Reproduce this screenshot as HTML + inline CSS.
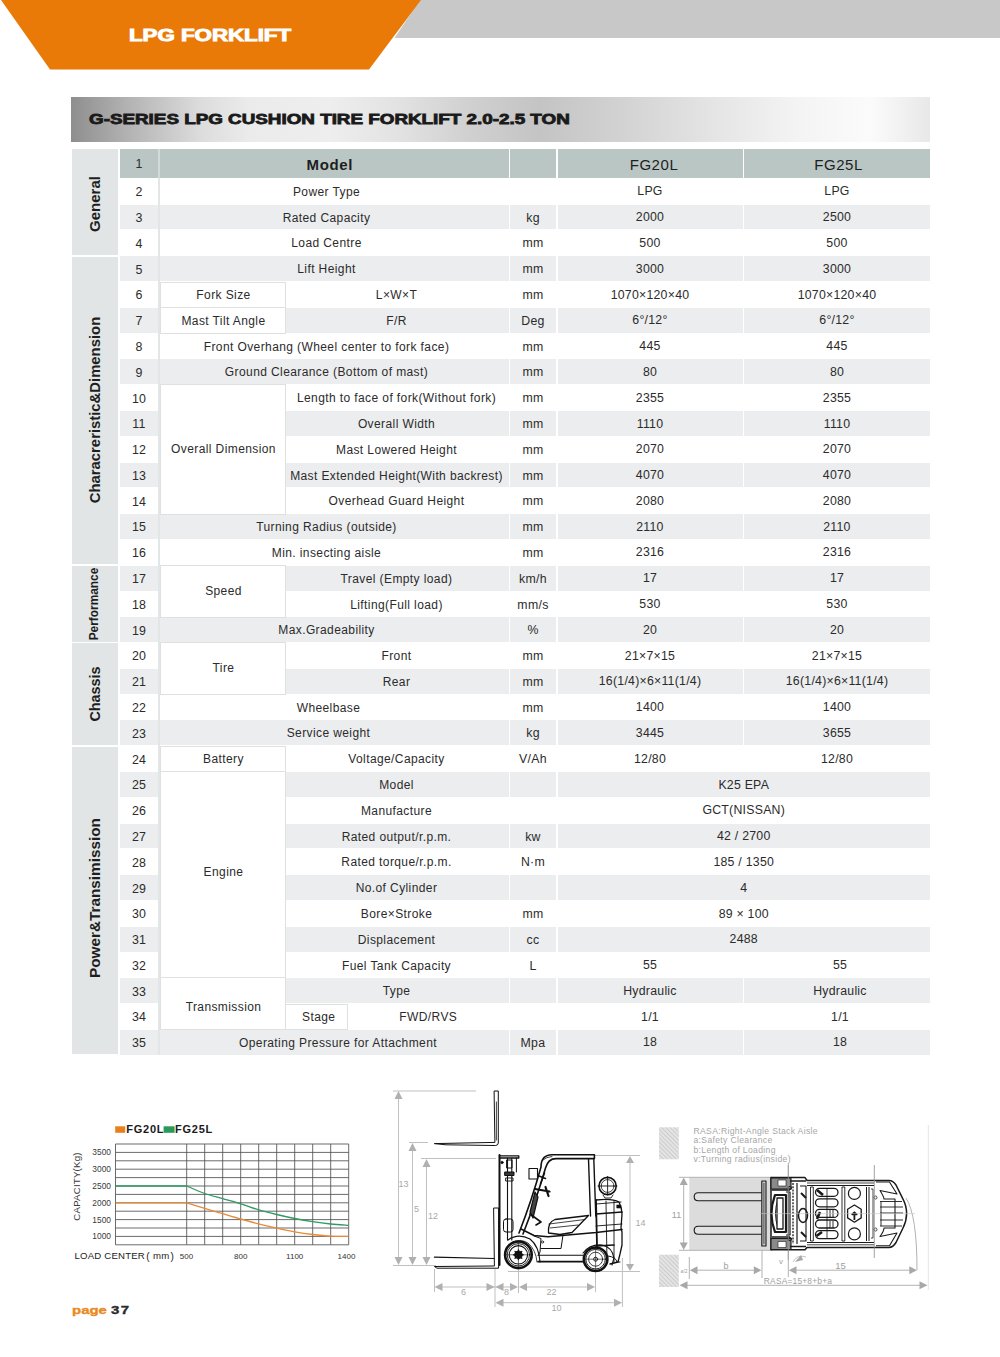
<!DOCTYPE html>
<html><head><meta charset="utf-8">
<style>
html,body{margin:0;padding:0;background:#fff;}
body{width:1000px;height:1357px;position:relative;overflow:hidden;font-family:"Liberation Sans",sans-serif;}
.t{position:absolute;text-align:center;white-space:nowrap;font-size:12px;letter-spacing:0.4px;color:#2b2b2b;}
.num{font-size:12.4px;letter-spacing:0.2px;}
.val{font-size:12.3px;letter-spacing:0.25px;}
.unit{font-size:12.3px;letter-spacing:0.3px;}
.hm{font-size:15px;font-weight:bold;letter-spacing:0.65px;color:#1e1e1e;}
.hv{font-size:15px;letter-spacing:0.55px;color:#1e1e1e;}
.sec{position:absolute;width:300px;height:20px;line-height:20px;text-align:center;font-weight:bold;color:#1e1e1e;transform:rotate(-90deg);white-space:nowrap;}
</style></head><body>
<!-- header -->
<svg style="position:absolute;left:0;top:0" width="1000" height="80">
<polygon points="0,0 1000,0 1000,38 394.5,38 420,0" fill="#c8c8c8"/>
<polygon points="1,0 421,0 369,69.5 50,69.5" fill="#ea7a08"/>
</svg>
<div style="position:absolute;left:129px;top:23.8px;height:24px;line-height:24px;font-size:15.8px;font-weight:bold;color:#fff;-webkit-text-stroke:0.9px #fff;transform-origin:0 50%;transform:scaleX(1.41);white-space:nowrap;">LPG FORKLIFT</div>
<!-- title bar -->
<div style="position:absolute;left:71px;top:96.5px;width:859px;height:45px;background:linear-gradient(90deg,#8e8e8e 0%,#b4b4b4 6.9%,#dcdcdc 15%,#ebebeb 20.8%,#eeeeee 30.2%,#e2e2e2 38.3%,#d0d0d0 46.4%,#c4c4c4 54.6%,#d2d2d2 63.9%,#e6e6e6 75.6%,#f4f4f4 84.9%,#fbfbfb 93%,#e8e8e8 100%);"></div>
<div style="position:absolute;left:88.8px;top:107.3px;height:24px;line-height:24px;font-size:14px;font-weight:bold;color:#1a1a1a;-webkit-text-stroke:0.8px #1a1a1a;transform-origin:0 50%;transform:scaleX(1.3445);white-space:nowrap;">G-SERIES LPG CUSHION TIRE FORKLIFT 2.0-2.5 TON</div>
<!-- table -->
<div style="position:absolute;left:120.00px;top:148.50px;width:38.00px;height:29.90px;background:#bac6c4;"></div>
<div style="position:absolute;left:158.00px;top:148.50px;width:2.00px;height:29.90px;background:#d3dbda;"></div>
<div style="position:absolute;left:160.00px;top:148.50px;width:348.50px;height:29.90px;background:#bac6c4;"></div>
<div style="position:absolute;left:510.00px;top:148.50px;width:46.00px;height:29.90px;background:#bac6c4;"></div>
<div style="position:absolute;left:557.50px;top:148.50px;width:185.00px;height:29.90px;background:#bac6c4;"></div>
<div style="position:absolute;left:744.00px;top:148.50px;width:186.00px;height:29.90px;background:#bac6c4;"></div>
<div class="t num" style="left:120.00px;top:150.00px;width:38.00px;height:29.90px;line-height:29.90px;">1</div>
<div class="t hm" style="left:269.80px;top:150.00px;width:120.00px;height:29.90px;line-height:29.90px;">Model</div>
<div class="t hv" style="left:594.00px;top:150.00px;width:120.00px;height:29.90px;line-height:29.90px;">FG20L</div>
<div class="t hv" style="left:778.60px;top:150.00px;width:120.00px;height:29.90px;line-height:29.90px;">FG25L</div>
<div class="t num" style="left:120.00px;top:180.20px;width:38.00px;height:25.79px;line-height:25.79px;">2</div>
<div class="t" style="left:176.50px;top:179.90px;width:300.00px;height:25.79px;line-height:25.79px;">Power Type</div>
<div class="t val" style="left:557.50px;top:179.40px;width:185.00px;height:25.79px;line-height:25.79px;">LPG</div>
<div class="t val" style="left:744.00px;top:179.40px;width:186.00px;height:25.79px;line-height:25.79px;">LPG</div>
<div style="position:absolute;left:120.00px;top:204.69px;width:38.00px;height:24.79px;background:#ecedee;"></div>
<div style="position:absolute;left:160.00px;top:204.69px;width:348.50px;height:24.79px;background:#ecedee;"></div>
<div style="position:absolute;left:510.00px;top:204.69px;width:46.00px;height:24.79px;background:#ecedee;"></div>
<div style="position:absolute;left:557.50px;top:204.69px;width:185.00px;height:24.79px;background:#ecedee;"></div>
<div style="position:absolute;left:744.00px;top:204.69px;width:186.00px;height:24.79px;background:#ecedee;"></div>
<div class="t num" style="left:120.00px;top:205.99px;width:38.00px;height:25.79px;line-height:25.79px;">3</div>
<div class="t" style="left:176.50px;top:205.69px;width:300.00px;height:25.79px;line-height:25.79px;">Rated Capacity</div>
<div class="t unit" style="left:510.00px;top:205.69px;width:46.00px;height:25.79px;line-height:25.79px;">kg</div>
<div class="t val" style="left:557.50px;top:205.19px;width:185.00px;height:25.79px;line-height:25.79px;">2000</div>
<div class="t val" style="left:744.00px;top:205.19px;width:186.00px;height:25.79px;line-height:25.79px;">2500</div>
<div class="t num" style="left:120.00px;top:231.78px;width:38.00px;height:25.79px;line-height:25.79px;">4</div>
<div class="t" style="left:176.50px;top:231.48px;width:300.00px;height:25.79px;line-height:25.79px;">Load Centre</div>
<div class="t unit" style="left:510.00px;top:231.48px;width:46.00px;height:25.79px;line-height:25.79px;">mm</div>
<div class="t val" style="left:557.50px;top:230.98px;width:185.00px;height:25.79px;line-height:25.79px;">500</div>
<div class="t val" style="left:744.00px;top:230.98px;width:186.00px;height:25.79px;line-height:25.79px;">500</div>
<div style="position:absolute;left:120.00px;top:256.27px;width:38.00px;height:24.79px;background:#ecedee;"></div>
<div style="position:absolute;left:160.00px;top:256.27px;width:348.50px;height:24.79px;background:#ecedee;"></div>
<div style="position:absolute;left:510.00px;top:256.27px;width:46.00px;height:24.79px;background:#ecedee;"></div>
<div style="position:absolute;left:557.50px;top:256.27px;width:185.00px;height:24.79px;background:#ecedee;"></div>
<div style="position:absolute;left:744.00px;top:256.27px;width:186.00px;height:24.79px;background:#ecedee;"></div>
<div class="t num" style="left:120.00px;top:257.57px;width:38.00px;height:25.79px;line-height:25.79px;">5</div>
<div class="t" style="left:176.50px;top:257.27px;width:300.00px;height:25.79px;line-height:25.79px;">Lift Height</div>
<div class="t unit" style="left:510.00px;top:257.27px;width:46.00px;height:25.79px;line-height:25.79px;">mm</div>
<div class="t val" style="left:557.50px;top:256.77px;width:185.00px;height:25.79px;line-height:25.79px;">3000</div>
<div class="t val" style="left:744.00px;top:256.77px;width:186.00px;height:25.79px;line-height:25.79px;">3000</div>
<div class="t num" style="left:120.00px;top:283.36px;width:38.00px;height:25.79px;line-height:25.79px;">6</div>
<div style="position:absolute;left:159.50px;top:281.56px;width:124.00px;height:24.79px;background:#fff;border:1px solid #dfe1e1;box-sizing:content-box"></div>
<div class="t" style="left:163.50px;top:283.06px;width:120.00px;height:25.79px;line-height:25.79px;">Fork Size</div>
<div class="t" style="left:287.50px;top:283.06px;width:218.00px;height:25.79px;line-height:25.79px;">L×W×T</div>
<div class="t unit" style="left:510.00px;top:283.06px;width:46.00px;height:25.79px;line-height:25.79px;">mm</div>
<div class="t val" style="left:557.50px;top:282.56px;width:185.00px;height:25.79px;line-height:25.79px;">1070×120×40</div>
<div class="t val" style="left:744.00px;top:282.56px;width:186.00px;height:25.79px;line-height:25.79px;">1070×120×40</div>
<div style="position:absolute;left:120.00px;top:307.85px;width:38.00px;height:24.79px;background:#ecedee;"></div>
<div style="position:absolute;left:160.00px;top:307.85px;width:348.50px;height:24.79px;background:#ecedee;"></div>
<div style="position:absolute;left:510.00px;top:307.85px;width:46.00px;height:24.79px;background:#ecedee;"></div>
<div style="position:absolute;left:557.50px;top:307.85px;width:185.00px;height:24.79px;background:#ecedee;"></div>
<div style="position:absolute;left:744.00px;top:307.85px;width:186.00px;height:24.79px;background:#ecedee;"></div>
<div class="t num" style="left:120.00px;top:309.15px;width:38.00px;height:25.79px;line-height:25.79px;">7</div>
<div style="position:absolute;left:159.50px;top:307.35px;width:124.00px;height:24.79px;background:#fff;border:1px solid #dfe1e1;box-sizing:content-box"></div>
<div class="t" style="left:163.50px;top:308.85px;width:120.00px;height:25.79px;line-height:25.79px;">Mast Tilt Angle</div>
<div class="t" style="left:287.50px;top:308.85px;width:218.00px;height:25.79px;line-height:25.79px;">F/R</div>
<div class="t unit" style="left:510.00px;top:308.85px;width:46.00px;height:25.79px;line-height:25.79px;">Deg</div>
<div class="t val" style="left:557.50px;top:308.35px;width:185.00px;height:25.79px;line-height:25.79px;">6°/12°</div>
<div class="t val" style="left:744.00px;top:308.35px;width:186.00px;height:25.79px;line-height:25.79px;">6°/12°</div>
<div class="t num" style="left:120.00px;top:334.94px;width:38.00px;height:25.79px;line-height:25.79px;">8</div>
<div class="t" style="left:176.50px;top:334.64px;width:300.00px;height:25.79px;line-height:25.79px;">Front Overhang (Wheel center to fork face)</div>
<div class="t unit" style="left:510.00px;top:334.64px;width:46.00px;height:25.79px;line-height:25.79px;">mm</div>
<div class="t val" style="left:557.50px;top:334.14px;width:185.00px;height:25.79px;line-height:25.79px;">445</div>
<div class="t val" style="left:744.00px;top:334.14px;width:186.00px;height:25.79px;line-height:25.79px;">445</div>
<div style="position:absolute;left:120.00px;top:359.43px;width:38.00px;height:24.79px;background:#ecedee;"></div>
<div style="position:absolute;left:160.00px;top:359.43px;width:348.50px;height:24.79px;background:#ecedee;"></div>
<div style="position:absolute;left:510.00px;top:359.43px;width:46.00px;height:24.79px;background:#ecedee;"></div>
<div style="position:absolute;left:557.50px;top:359.43px;width:185.00px;height:24.79px;background:#ecedee;"></div>
<div style="position:absolute;left:744.00px;top:359.43px;width:186.00px;height:24.79px;background:#ecedee;"></div>
<div class="t num" style="left:120.00px;top:360.73px;width:38.00px;height:25.79px;line-height:25.79px;">9</div>
<div class="t" style="left:176.50px;top:360.43px;width:300.00px;height:25.79px;line-height:25.79px;">Ground Clearance (Bottom of mast)</div>
<div class="t unit" style="left:510.00px;top:360.43px;width:46.00px;height:25.79px;line-height:25.79px;">mm</div>
<div class="t val" style="left:557.50px;top:359.93px;width:185.00px;height:25.79px;line-height:25.79px;">80</div>
<div class="t val" style="left:744.00px;top:359.93px;width:186.00px;height:25.79px;line-height:25.79px;">80</div>
<div class="t num" style="left:120.00px;top:386.52px;width:38.00px;height:25.79px;line-height:25.79px;">10</div>
<div class="t" style="left:287.50px;top:386.22px;width:218.00px;height:25.79px;line-height:25.79px;">Length to face of fork(Without fork)</div>
<div class="t unit" style="left:510.00px;top:386.22px;width:46.00px;height:25.79px;line-height:25.79px;">mm</div>
<div class="t val" style="left:557.50px;top:385.72px;width:185.00px;height:25.79px;line-height:25.79px;">2355</div>
<div class="t val" style="left:744.00px;top:385.72px;width:186.00px;height:25.79px;line-height:25.79px;">2355</div>
<div style="position:absolute;left:120.00px;top:411.01px;width:38.00px;height:24.79px;background:#ecedee;"></div>
<div style="position:absolute;left:160.00px;top:411.01px;width:348.50px;height:24.79px;background:#ecedee;"></div>
<div style="position:absolute;left:510.00px;top:411.01px;width:46.00px;height:24.79px;background:#ecedee;"></div>
<div style="position:absolute;left:557.50px;top:411.01px;width:185.00px;height:24.79px;background:#ecedee;"></div>
<div style="position:absolute;left:744.00px;top:411.01px;width:186.00px;height:24.79px;background:#ecedee;"></div>
<div class="t num" style="left:120.00px;top:412.31px;width:38.00px;height:25.79px;line-height:25.79px;">11</div>
<div class="t" style="left:287.50px;top:412.01px;width:218.00px;height:25.79px;line-height:25.79px;">Overall Width</div>
<div class="t unit" style="left:510.00px;top:412.01px;width:46.00px;height:25.79px;line-height:25.79px;">mm</div>
<div class="t val" style="left:557.50px;top:411.51px;width:185.00px;height:25.79px;line-height:25.79px;">1110</div>
<div class="t val" style="left:744.00px;top:411.51px;width:186.00px;height:25.79px;line-height:25.79px;">1110</div>
<div class="t num" style="left:120.00px;top:438.10px;width:38.00px;height:25.79px;line-height:25.79px;">12</div>
<div class="t" style="left:287.50px;top:437.80px;width:218.00px;height:25.79px;line-height:25.79px;">Mast Lowered Height</div>
<div class="t unit" style="left:510.00px;top:437.80px;width:46.00px;height:25.79px;line-height:25.79px;">mm</div>
<div class="t val" style="left:557.50px;top:437.30px;width:185.00px;height:25.79px;line-height:25.79px;">2070</div>
<div class="t val" style="left:744.00px;top:437.30px;width:186.00px;height:25.79px;line-height:25.79px;">2070</div>
<div style="position:absolute;left:120.00px;top:462.59px;width:38.00px;height:24.79px;background:#ecedee;"></div>
<div style="position:absolute;left:160.00px;top:462.59px;width:348.50px;height:24.79px;background:#ecedee;"></div>
<div style="position:absolute;left:510.00px;top:462.59px;width:46.00px;height:24.79px;background:#ecedee;"></div>
<div style="position:absolute;left:557.50px;top:462.59px;width:185.00px;height:24.79px;background:#ecedee;"></div>
<div style="position:absolute;left:744.00px;top:462.59px;width:186.00px;height:24.79px;background:#ecedee;"></div>
<div class="t num" style="left:120.00px;top:463.89px;width:38.00px;height:25.79px;line-height:25.79px;">13</div>
<div class="t" style="left:287.50px;top:463.59px;width:218.00px;height:25.79px;line-height:25.79px;">Mast Extended Height(With backrest)</div>
<div class="t unit" style="left:510.00px;top:463.59px;width:46.00px;height:25.79px;line-height:25.79px;">mm</div>
<div class="t val" style="left:557.50px;top:463.09px;width:185.00px;height:25.79px;line-height:25.79px;">4070</div>
<div class="t val" style="left:744.00px;top:463.09px;width:186.00px;height:25.79px;line-height:25.79px;">4070</div>
<div class="t num" style="left:120.00px;top:489.68px;width:38.00px;height:25.79px;line-height:25.79px;">14</div>
<div class="t" style="left:287.50px;top:489.38px;width:218.00px;height:25.79px;line-height:25.79px;">Overhead Guard Height</div>
<div class="t unit" style="left:510.00px;top:489.38px;width:46.00px;height:25.79px;line-height:25.79px;">mm</div>
<div class="t val" style="left:557.50px;top:488.88px;width:185.00px;height:25.79px;line-height:25.79px;">2080</div>
<div class="t val" style="left:744.00px;top:488.88px;width:186.00px;height:25.79px;line-height:25.79px;">2080</div>
<div style="position:absolute;left:120.00px;top:514.17px;width:38.00px;height:24.79px;background:#ecedee;"></div>
<div style="position:absolute;left:160.00px;top:514.17px;width:348.50px;height:24.79px;background:#ecedee;"></div>
<div style="position:absolute;left:510.00px;top:514.17px;width:46.00px;height:24.79px;background:#ecedee;"></div>
<div style="position:absolute;left:557.50px;top:514.17px;width:185.00px;height:24.79px;background:#ecedee;"></div>
<div style="position:absolute;left:744.00px;top:514.17px;width:186.00px;height:24.79px;background:#ecedee;"></div>
<div class="t num" style="left:120.00px;top:515.47px;width:38.00px;height:25.79px;line-height:25.79px;">15</div>
<div class="t" style="left:176.50px;top:515.17px;width:300.00px;height:25.79px;line-height:25.79px;">Turning Radius (outside)</div>
<div class="t unit" style="left:510.00px;top:515.17px;width:46.00px;height:25.79px;line-height:25.79px;">mm</div>
<div class="t val" style="left:557.50px;top:514.67px;width:185.00px;height:25.79px;line-height:25.79px;">2110</div>
<div class="t val" style="left:744.00px;top:514.67px;width:186.00px;height:25.79px;line-height:25.79px;">2110</div>
<div class="t num" style="left:120.00px;top:541.26px;width:38.00px;height:25.79px;line-height:25.79px;">16</div>
<div class="t" style="left:176.50px;top:540.96px;width:300.00px;height:25.79px;line-height:25.79px;">Min. insecting aisle</div>
<div class="t unit" style="left:510.00px;top:540.96px;width:46.00px;height:25.79px;line-height:25.79px;">mm</div>
<div class="t val" style="left:557.50px;top:540.46px;width:185.00px;height:25.79px;line-height:25.79px;">2316</div>
<div class="t val" style="left:744.00px;top:540.46px;width:186.00px;height:25.79px;line-height:25.79px;">2316</div>
<div style="position:absolute;left:120.00px;top:565.75px;width:38.00px;height:24.79px;background:#ecedee;"></div>
<div style="position:absolute;left:160.00px;top:565.75px;width:348.50px;height:24.79px;background:#ecedee;"></div>
<div style="position:absolute;left:510.00px;top:565.75px;width:46.00px;height:24.79px;background:#ecedee;"></div>
<div style="position:absolute;left:557.50px;top:565.75px;width:185.00px;height:24.79px;background:#ecedee;"></div>
<div style="position:absolute;left:744.00px;top:565.75px;width:186.00px;height:24.79px;background:#ecedee;"></div>
<div class="t num" style="left:120.00px;top:567.05px;width:38.00px;height:25.79px;line-height:25.79px;">17</div>
<div class="t" style="left:287.50px;top:566.75px;width:218.00px;height:25.79px;line-height:25.79px;">Travel (Empty load)</div>
<div class="t unit" style="left:510.00px;top:566.75px;width:46.00px;height:25.79px;line-height:25.79px;">km/h</div>
<div class="t val" style="left:557.50px;top:566.25px;width:185.00px;height:25.79px;line-height:25.79px;">17</div>
<div class="t val" style="left:744.00px;top:566.25px;width:186.00px;height:25.79px;line-height:25.79px;">17</div>
<div class="t num" style="left:120.00px;top:592.84px;width:38.00px;height:25.79px;line-height:25.79px;">18</div>
<div class="t" style="left:287.50px;top:592.54px;width:218.00px;height:25.79px;line-height:25.79px;">Lifting(Full load)</div>
<div class="t unit" style="left:510.00px;top:592.54px;width:46.00px;height:25.79px;line-height:25.79px;">mm/s</div>
<div class="t val" style="left:557.50px;top:592.04px;width:185.00px;height:25.79px;line-height:25.79px;">530</div>
<div class="t val" style="left:744.00px;top:592.04px;width:186.00px;height:25.79px;line-height:25.79px;">530</div>
<div style="position:absolute;left:120.00px;top:617.33px;width:38.00px;height:24.79px;background:#ecedee;"></div>
<div style="position:absolute;left:160.00px;top:617.33px;width:348.50px;height:24.79px;background:#ecedee;"></div>
<div style="position:absolute;left:510.00px;top:617.33px;width:46.00px;height:24.79px;background:#ecedee;"></div>
<div style="position:absolute;left:557.50px;top:617.33px;width:185.00px;height:24.79px;background:#ecedee;"></div>
<div style="position:absolute;left:744.00px;top:617.33px;width:186.00px;height:24.79px;background:#ecedee;"></div>
<div class="t num" style="left:120.00px;top:618.63px;width:38.00px;height:25.79px;line-height:25.79px;">19</div>
<div class="t" style="left:176.50px;top:618.33px;width:300.00px;height:25.79px;line-height:25.79px;">Max.Gradeability</div>
<div class="t unit" style="left:510.00px;top:618.33px;width:46.00px;height:25.79px;line-height:25.79px;">%</div>
<div class="t val" style="left:557.50px;top:617.83px;width:185.00px;height:25.79px;line-height:25.79px;">20</div>
<div class="t val" style="left:744.00px;top:617.83px;width:186.00px;height:25.79px;line-height:25.79px;">20</div>
<div class="t num" style="left:120.00px;top:644.42px;width:38.00px;height:25.79px;line-height:25.79px;">20</div>
<div class="t" style="left:287.50px;top:644.12px;width:218.00px;height:25.79px;line-height:25.79px;">Front</div>
<div class="t unit" style="left:510.00px;top:644.12px;width:46.00px;height:25.79px;line-height:25.79px;">mm</div>
<div class="t val" style="left:557.50px;top:643.62px;width:185.00px;height:25.79px;line-height:25.79px;">21×7×15</div>
<div class="t val" style="left:744.00px;top:643.62px;width:186.00px;height:25.79px;line-height:25.79px;">21×7×15</div>
<div style="position:absolute;left:120.00px;top:668.91px;width:38.00px;height:24.79px;background:#ecedee;"></div>
<div style="position:absolute;left:160.00px;top:668.91px;width:348.50px;height:24.79px;background:#ecedee;"></div>
<div style="position:absolute;left:510.00px;top:668.91px;width:46.00px;height:24.79px;background:#ecedee;"></div>
<div style="position:absolute;left:557.50px;top:668.91px;width:185.00px;height:24.79px;background:#ecedee;"></div>
<div style="position:absolute;left:744.00px;top:668.91px;width:186.00px;height:24.79px;background:#ecedee;"></div>
<div class="t num" style="left:120.00px;top:670.21px;width:38.00px;height:25.79px;line-height:25.79px;">21</div>
<div class="t" style="left:287.50px;top:669.91px;width:218.00px;height:25.79px;line-height:25.79px;">Rear</div>
<div class="t unit" style="left:510.00px;top:669.91px;width:46.00px;height:25.79px;line-height:25.79px;">mm</div>
<div class="t val" style="left:557.50px;top:669.41px;width:185.00px;height:25.79px;line-height:25.79px;">16(1/4)×6×11(1/4)</div>
<div class="t val" style="left:744.00px;top:669.41px;width:186.00px;height:25.79px;line-height:25.79px;">16(1/4)×6×11(1/4)</div>
<div class="t num" style="left:120.00px;top:696.00px;width:38.00px;height:25.79px;line-height:25.79px;">22</div>
<div class="t" style="left:178.50px;top:695.70px;width:300.00px;height:25.79px;line-height:25.79px;">Wheelbase</div>
<div class="t unit" style="left:510.00px;top:695.70px;width:46.00px;height:25.79px;line-height:25.79px;">mm</div>
<div class="t val" style="left:557.50px;top:695.20px;width:185.00px;height:25.79px;line-height:25.79px;">1400</div>
<div class="t val" style="left:744.00px;top:695.20px;width:186.00px;height:25.79px;line-height:25.79px;">1400</div>
<div style="position:absolute;left:120.00px;top:720.49px;width:38.00px;height:24.79px;background:#ecedee;"></div>
<div style="position:absolute;left:160.00px;top:720.49px;width:348.50px;height:24.79px;background:#ecedee;"></div>
<div style="position:absolute;left:510.00px;top:720.49px;width:46.00px;height:24.79px;background:#ecedee;"></div>
<div style="position:absolute;left:557.50px;top:720.49px;width:185.00px;height:24.79px;background:#ecedee;"></div>
<div style="position:absolute;left:744.00px;top:720.49px;width:186.00px;height:24.79px;background:#ecedee;"></div>
<div class="t num" style="left:120.00px;top:721.79px;width:38.00px;height:25.79px;line-height:25.79px;">23</div>
<div class="t" style="left:178.50px;top:721.49px;width:300.00px;height:25.79px;line-height:25.79px;">Service weight</div>
<div class="t unit" style="left:510.00px;top:721.49px;width:46.00px;height:25.79px;line-height:25.79px;">kg</div>
<div class="t val" style="left:557.50px;top:720.99px;width:185.00px;height:25.79px;line-height:25.79px;">3445</div>
<div class="t val" style="left:744.00px;top:720.99px;width:186.00px;height:25.79px;line-height:25.79px;">3655</div>
<div class="t num" style="left:120.00px;top:747.58px;width:38.00px;height:25.79px;line-height:25.79px;">24</div>
<div style="position:absolute;left:159.50px;top:745.78px;width:124.00px;height:24.79px;background:#fff;border:1px solid #dfe1e1;box-sizing:content-box"></div>
<div class="t" style="left:163.50px;top:747.28px;width:120.00px;height:25.79px;line-height:25.79px;">Battery</div>
<div class="t" style="left:287.50px;top:747.28px;width:218.00px;height:25.79px;line-height:25.79px;">Voltage/Capacity</div>
<div class="t unit" style="left:510.00px;top:747.28px;width:46.00px;height:25.79px;line-height:25.79px;">V/Ah</div>
<div class="t val" style="left:557.50px;top:746.78px;width:185.00px;height:25.79px;line-height:25.79px;">12/80</div>
<div class="t val" style="left:744.00px;top:746.78px;width:186.00px;height:25.79px;line-height:25.79px;">12/80</div>
<div style="position:absolute;left:120.00px;top:772.07px;width:38.00px;height:24.79px;background:#ecedee;"></div>
<div style="position:absolute;left:160.00px;top:772.07px;width:348.50px;height:24.79px;background:#ecedee;"></div>
<div style="position:absolute;left:510.00px;top:772.07px;width:46.00px;height:24.79px;background:#ecedee;"></div>
<div style="position:absolute;left:557.50px;top:772.07px;width:372.50px;height:24.79px;background:#ecedee;"></div>
<div class="t num" style="left:120.00px;top:773.37px;width:38.00px;height:25.79px;line-height:25.79px;">25</div>
<div class="t" style="left:287.50px;top:773.07px;width:218.00px;height:25.79px;line-height:25.79px;">Model</div>
<div class="t val" style="left:557.50px;top:772.57px;width:372.50px;height:25.79px;line-height:25.79px;">K25 EPA</div>
<div class="t num" style="left:120.00px;top:799.16px;width:38.00px;height:25.79px;line-height:25.79px;">26</div>
<div class="t" style="left:287.50px;top:798.86px;width:218.00px;height:25.79px;line-height:25.79px;">Manufacture</div>
<div class="t val" style="left:557.50px;top:798.36px;width:372.50px;height:25.79px;line-height:25.79px;">GCT(NISSAN)</div>
<div style="position:absolute;left:120.00px;top:823.65px;width:38.00px;height:24.79px;background:#ecedee;"></div>
<div style="position:absolute;left:160.00px;top:823.65px;width:348.50px;height:24.79px;background:#ecedee;"></div>
<div style="position:absolute;left:510.00px;top:823.65px;width:46.00px;height:24.79px;background:#ecedee;"></div>
<div style="position:absolute;left:557.50px;top:823.65px;width:372.50px;height:24.79px;background:#ecedee;"></div>
<div class="t num" style="left:120.00px;top:824.95px;width:38.00px;height:25.79px;line-height:25.79px;">27</div>
<div class="t" style="left:287.50px;top:824.65px;width:218.00px;height:25.79px;line-height:25.79px;">Rated output/r.p.m.</div>
<div class="t val" style="left:557.50px;top:824.15px;width:372.50px;height:25.79px;line-height:25.79px;">42 / 2700</div>
<div class="t unit" style="left:510.00px;top:824.65px;width:46.00px;height:25.79px;line-height:25.79px;">kw</div>
<div class="t num" style="left:120.00px;top:850.74px;width:38.00px;height:25.79px;line-height:25.79px;">28</div>
<div class="t" style="left:287.50px;top:850.44px;width:218.00px;height:25.79px;line-height:25.79px;">Rated torque/r.p.m.</div>
<div class="t val" style="left:557.50px;top:849.94px;width:372.50px;height:25.79px;line-height:25.79px;">185 / 1350</div>
<div class="t unit" style="left:510.00px;top:850.44px;width:46.00px;height:25.79px;line-height:25.79px;">N·m</div>
<div style="position:absolute;left:120.00px;top:875.23px;width:38.00px;height:24.79px;background:#ecedee;"></div>
<div style="position:absolute;left:160.00px;top:875.23px;width:348.50px;height:24.79px;background:#ecedee;"></div>
<div style="position:absolute;left:510.00px;top:875.23px;width:46.00px;height:24.79px;background:#ecedee;"></div>
<div style="position:absolute;left:557.50px;top:875.23px;width:372.50px;height:24.79px;background:#ecedee;"></div>
<div class="t num" style="left:120.00px;top:876.53px;width:38.00px;height:25.79px;line-height:25.79px;">29</div>
<div class="t" style="left:287.50px;top:876.23px;width:218.00px;height:25.79px;line-height:25.79px;">No.of Cylinder</div>
<div class="t val" style="left:557.50px;top:875.73px;width:372.50px;height:25.79px;line-height:25.79px;">4</div>
<div class="t num" style="left:120.00px;top:902.32px;width:38.00px;height:25.79px;line-height:25.79px;">30</div>
<div class="t" style="left:287.50px;top:902.02px;width:218.00px;height:25.79px;line-height:25.79px;">Bore×Stroke</div>
<div class="t val" style="left:557.50px;top:901.52px;width:372.50px;height:25.79px;line-height:25.79px;">89 × 100</div>
<div class="t unit" style="left:510.00px;top:902.02px;width:46.00px;height:25.79px;line-height:25.79px;">mm</div>
<div style="position:absolute;left:120.00px;top:926.81px;width:38.00px;height:24.79px;background:#ecedee;"></div>
<div style="position:absolute;left:160.00px;top:926.81px;width:348.50px;height:24.79px;background:#ecedee;"></div>
<div style="position:absolute;left:510.00px;top:926.81px;width:46.00px;height:24.79px;background:#ecedee;"></div>
<div style="position:absolute;left:557.50px;top:926.81px;width:372.50px;height:24.79px;background:#ecedee;"></div>
<div class="t num" style="left:120.00px;top:928.11px;width:38.00px;height:25.79px;line-height:25.79px;">31</div>
<div class="t" style="left:287.50px;top:927.81px;width:218.00px;height:25.79px;line-height:25.79px;">Displacement</div>
<div class="t val" style="left:557.50px;top:927.31px;width:372.50px;height:25.79px;line-height:25.79px;">2488</div>
<div class="t unit" style="left:510.00px;top:927.81px;width:46.00px;height:25.79px;line-height:25.79px;">cc</div>
<div class="t num" style="left:120.00px;top:953.90px;width:38.00px;height:25.79px;line-height:25.79px;">32</div>
<div class="t" style="left:287.50px;top:953.60px;width:218.00px;height:25.79px;line-height:25.79px;">Fuel Tank Capacity</div>
<div class="t unit" style="left:510.00px;top:953.60px;width:46.00px;height:25.79px;line-height:25.79px;">L</div>
<div class="t val" style="left:557.50px;top:953.10px;width:185.00px;height:25.79px;line-height:25.79px;">55</div>
<div class="t val" style="left:747.00px;top:953.10px;width:186.00px;height:25.79px;line-height:25.79px;">55</div>
<div style="position:absolute;left:120.00px;top:978.39px;width:38.00px;height:24.79px;background:#ecedee;"></div>
<div style="position:absolute;left:160.00px;top:978.39px;width:348.50px;height:24.79px;background:#ecedee;"></div>
<div style="position:absolute;left:510.00px;top:978.39px;width:46.00px;height:24.79px;background:#ecedee;"></div>
<div style="position:absolute;left:557.50px;top:978.39px;width:185.00px;height:24.79px;background:#ecedee;"></div>
<div style="position:absolute;left:744.00px;top:978.39px;width:186.00px;height:24.79px;background:#ecedee;"></div>
<div class="t num" style="left:120.00px;top:979.69px;width:38.00px;height:25.79px;line-height:25.79px;">33</div>
<div class="t" style="left:287.50px;top:979.39px;width:218.00px;height:25.79px;line-height:25.79px;">Type</div>
<div class="t val" style="left:557.50px;top:978.89px;width:185.00px;height:25.79px;line-height:25.79px;">Hydraulic</div>
<div class="t val" style="left:747.00px;top:978.89px;width:186.00px;height:25.79px;line-height:25.79px;">Hydraulic</div>
<div class="t num" style="left:120.00px;top:1005.48px;width:38.00px;height:25.79px;line-height:25.79px;">34</div>
<div style="position:absolute;left:285.00px;top:1003.98px;width:61.00px;height:24.19px;background:#fff;border:1px solid #dfe1e1;"></div>
<div class="t" style="left:287.50px;top:1005.18px;width:62.50px;height:25.79px;line-height:25.79px;">Stage</div>
<div class="t" style="left:348.00px;top:1005.18px;width:160.50px;height:25.79px;line-height:25.79px;">FWD/RVS</div>
<div class="t val" style="left:557.50px;top:1004.68px;width:185.00px;height:25.79px;line-height:25.79px;">1/1</div>
<div class="t val" style="left:747.00px;top:1004.68px;width:186.00px;height:25.79px;line-height:25.79px;">1/1</div>
<div style="position:absolute;left:120.00px;top:1029.97px;width:38.00px;height:24.79px;background:#ecedee;"></div>
<div style="position:absolute;left:160.00px;top:1029.97px;width:348.50px;height:24.79px;background:#ecedee;"></div>
<div style="position:absolute;left:510.00px;top:1029.97px;width:46.00px;height:24.79px;background:#ecedee;"></div>
<div style="position:absolute;left:557.50px;top:1029.97px;width:185.00px;height:24.79px;background:#ecedee;"></div>
<div style="position:absolute;left:744.00px;top:1029.97px;width:186.00px;height:24.79px;background:#ecedee;"></div>
<div class="t num" style="left:120.00px;top:1031.27px;width:38.00px;height:25.79px;line-height:25.79px;">35</div>
<div class="t" style="left:188.00px;top:1030.97px;width:300.00px;height:25.79px;line-height:25.79px;">Operating Pressure for Attachment</div>
<div class="t unit" style="left:510.00px;top:1030.97px;width:46.00px;height:25.79px;line-height:25.79px;">Mpa</div>
<div class="t val" style="left:557.50px;top:1030.47px;width:185.00px;height:25.79px;line-height:25.79px;">18</div>
<div class="t val" style="left:747.00px;top:1030.47px;width:186.00px;height:25.79px;line-height:25.79px;">18</div>
<div style="position:absolute;left:159.50px;top:384.22px;width:124.00px;height:128.45px;background:#fff;border:1px solid #dfe1e1;"></div>
<div class="t" style="left:163.50px;top:385.02px;width:120.00px;height:128.95px;line-height:128.95px;">Overall Dimension</div>
<div style="position:absolute;left:159.50px;top:564.75px;width:124.00px;height:51.08px;background:#fff;border:1px solid #dfe1e1;"></div>
<div class="t" style="left:163.50px;top:565.55px;width:120.00px;height:51.58px;line-height:51.58px;">Speed</div>
<div style="position:absolute;left:159.50px;top:642.12px;width:124.00px;height:51.08px;background:#fff;border:1px solid #dfe1e1;"></div>
<div class="t" style="left:163.50px;top:642.92px;width:120.00px;height:51.58px;line-height:51.58px;">Tire</div>
<div style="position:absolute;left:159.50px;top:771.07px;width:124.00px;height:205.82px;background:#fff;border:1px solid #dfe1e1;"></div>
<div class="t" style="left:163.50px;top:768.87px;width:120.00px;height:206.32px;line-height:206.32px;">Engine</div>
<div style="position:absolute;left:159.50px;top:977.39px;width:124.00px;height:51.08px;background:#fff;border:1px solid #dfe1e1;"></div>
<div class="t" style="left:163.50px;top:982.19px;width:120.00px;height:51.58px;line-height:51.58px;">Transmission</div>
<div style="position:absolute;left:158.00px;top:178.40px;width:2.00px;height:876.86px;background:#e3e6e6;"></div>
<div style="position:absolute;left:72.00px;top:148.50px;width:46.00px;height:106.47px;background:#e1e5e5;"></div>
<div class="sec" style="left:-55.00px;top:194.34px;font-size:15.0px">General</div>
<div style="position:absolute;left:72.00px;top:256.57px;width:46.00px;height:307.88px;background:#e1e5e5;"></div>
<div class="sec" style="left:-55.00px;top:400.11px;font-size:14.85px">Characreristic&amp;Dimension</div>
<div style="position:absolute;left:72.00px;top:566.05px;width:46.00px;height:75.77px;background:#e1e5e5;"></div>
<div class="sec" style="left:-56.20px;top:593.93px;font-size:11.9px">Performance</div>
<div style="position:absolute;left:72.00px;top:643.42px;width:46.00px;height:101.56px;background:#e1e5e5;"></div>
<div class="sec" style="left:-55.00px;top:684.20px;font-size:14.4px">Chassis</div>
<div style="position:absolute;left:72.00px;top:746.58px;width:46.00px;height:307.88px;background:#e1e5e5;"></div>
<div class="sec" style="left:-55.00px;top:888.02px;font-size:15.3px">Power&amp;Transimission</div>
<svg style="position:absolute;left:0;top:0" width="1000" height="1357">
<line x1="115.5" y1="1144.00" x2="348.7" y2="1144.00" stroke="#505050" stroke-width="0.85"/>
<line x1="115.5" y1="1152.40" x2="348.7" y2="1152.40" stroke="#505050" stroke-width="0.85"/>
<line x1="115.5" y1="1160.80" x2="348.7" y2="1160.80" stroke="#505050" stroke-width="0.85"/>
<line x1="115.5" y1="1169.20" x2="348.7" y2="1169.20" stroke="#505050" stroke-width="0.85"/>
<line x1="115.5" y1="1177.60" x2="348.7" y2="1177.60" stroke="#505050" stroke-width="0.85"/>
<line x1="115.5" y1="1186.00" x2="348.7" y2="1186.00" stroke="#505050" stroke-width="0.85"/>
<line x1="115.5" y1="1194.40" x2="348.7" y2="1194.40" stroke="#505050" stroke-width="0.85"/>
<line x1="115.5" y1="1202.80" x2="348.7" y2="1202.80" stroke="#505050" stroke-width="0.85"/>
<line x1="115.5" y1="1211.20" x2="348.7" y2="1211.20" stroke="#505050" stroke-width="0.85"/>
<line x1="115.5" y1="1219.60" x2="348.7" y2="1219.60" stroke="#505050" stroke-width="0.85"/>
<line x1="115.5" y1="1228.00" x2="348.7" y2="1228.00" stroke="#505050" stroke-width="0.85"/>
<line x1="115.5" y1="1236.40" x2="348.7" y2="1236.40" stroke="#505050" stroke-width="0.85"/>
<line x1="115.5" y1="1244.80" x2="348.7" y2="1244.80" stroke="#505050" stroke-width="0.85"/>
<line x1="115.5" y1="1144.0" x2="115.5" y2="1244.8" stroke="#505050" stroke-width="0.85"/>
<line x1="186.70" y1="1144.0" x2="186.70" y2="1244.8" stroke="#505050" stroke-width="0.85"/>
<line x1="204.70" y1="1144.0" x2="204.70" y2="1244.8" stroke="#505050" stroke-width="0.85"/>
<line x1="222.70" y1="1144.0" x2="222.70" y2="1244.8" stroke="#505050" stroke-width="0.85"/>
<line x1="240.70" y1="1144.0" x2="240.70" y2="1244.8" stroke="#505050" stroke-width="0.85"/>
<line x1="258.70" y1="1144.0" x2="258.70" y2="1244.8" stroke="#505050" stroke-width="0.85"/>
<line x1="276.70" y1="1144.0" x2="276.70" y2="1244.8" stroke="#505050" stroke-width="0.85"/>
<line x1="294.70" y1="1144.0" x2="294.70" y2="1244.8" stroke="#505050" stroke-width="0.85"/>
<line x1="312.70" y1="1144.0" x2="312.70" y2="1244.8" stroke="#505050" stroke-width="0.85"/>
<line x1="330.70" y1="1144.0" x2="330.70" y2="1244.8" stroke="#505050" stroke-width="0.85"/>
<line x1="348.70" y1="1144.0" x2="348.70" y2="1244.8" stroke="#505050" stroke-width="0.85"/>
<path d="M115.5,1186 L186.7,1186 C189.70,1187.25 198.70,1191.40 204.70,1193.50 C210.70,1195.60 216.70,1196.88 222.70,1198.60 C228.70,1200.32 234.70,1201.93 240.70,1203.80 C246.70,1205.67 252.70,1208.02 258.70,1209.80 C264.70,1211.58 270.70,1213.05 276.70,1214.50 C282.70,1215.95 288.70,1217.30 294.70,1218.50 C300.70,1219.70 306.70,1220.78 312.70,1221.70 C318.70,1222.62 324.70,1223.38 330.70,1224.00 C336.70,1224.62 345.70,1225.17 348.70,1225.40 " fill="none" stroke="#2f9a62" stroke-width="1.3"/>
<path d="M115.5,1202.9 L186.7,1202.9 C189.70,1203.82 198.70,1206.60 204.70,1208.40 C210.70,1210.20 216.70,1211.93 222.70,1213.70 C228.70,1215.47 234.70,1217.30 240.70,1219.00 C246.70,1220.70 252.70,1222.38 258.70,1223.90 C264.70,1225.42 270.70,1226.78 276.70,1228.10 C282.70,1229.42 288.70,1230.73 294.70,1231.80 C300.70,1232.87 306.70,1233.77 312.70,1234.50 C318.70,1235.23 324.70,1235.88 330.70,1236.20 C336.70,1236.52 345.70,1236.37 348.70,1236.40 " fill="none" stroke="#e98a35" stroke-width="1.3"/>
<text x="111" y="1155.40" font-family="Liberation Sans" font-size="8.4" fill="#3a3a3a" text-anchor="end">3500</text>
<text x="111" y="1172.20" font-family="Liberation Sans" font-size="8.4" fill="#3a3a3a" text-anchor="end">3000</text>
<text x="111" y="1189.00" font-family="Liberation Sans" font-size="8.4" fill="#3a3a3a" text-anchor="end">2500</text>
<text x="111" y="1205.80" font-family="Liberation Sans" font-size="8.4" fill="#3a3a3a" text-anchor="end">2000</text>
<text x="111" y="1222.60" font-family="Liberation Sans" font-size="8.4" fill="#3a3a3a" text-anchor="end">1500</text>
<text x="111" y="1239.40" font-family="Liberation Sans" font-size="8.4" fill="#3a3a3a" text-anchor="end">1000</text>
<text transform="translate(79.5,1186.5) rotate(-90)" font-family="Liberation Sans" font-size="9.7" fill="#3a3a3a" text-anchor="middle" letter-spacing="0.2">CAPACITY(Kg)</text>
<text x="74.5" y="1259.2" font-family="Liberation Sans" font-size="9.6" fill="#222" letter-spacing="0.2">LOAD CENTER</text>
<text x="146.3" y="1259.6" font-family="Liberation Sans" font-size="10" fill="#222">(</text>
<text x="153" y="1259.2" font-family="Liberation Sans" font-size="9.6" fill="#222" letter-spacing="0.3">mm</text>
<text x="170.5" y="1259.6" font-family="Liberation Sans" font-size="10" fill="#222">)</text>
<text x="186.5" y="1258.8" font-family="Liberation Sans" font-size="8" fill="#333" text-anchor="middle">500</text>
<text x="240.7" y="1258.8" font-family="Liberation Sans" font-size="8" fill="#333" text-anchor="middle">800</text>
<text x="294.7" y="1258.8" font-family="Liberation Sans" font-size="8" fill="#333" text-anchor="middle">1100</text>
<text x="346.5" y="1258.8" font-family="Liberation Sans" font-size="8" fill="#333" text-anchor="middle">1400</text>
<rect x="115.2" y="1126.3" width="10" height="6.5" fill="#e8801e"/>
<text x="126.3" y="1133.4" font-family="Liberation Sans" font-size="11" font-weight="bold" fill="#1a1a1a" letter-spacing="0.75">FG20L</text>
<rect x="163.6" y="1126.3" width="11" height="6.5" fill="#2a9a5a"/>
<text x="175.0" y="1133.4" font-family="Liberation Sans" font-size="11" font-weight="bold" fill="#1a1a1a" letter-spacing="0.75">FG25L</text><g fill="none" stroke="#c0c0c0" stroke-width="1">
  <!-- extension lines -->
  <line x1="393" y1="1091" x2="476" y2="1091"/>
  <line x1="409" y1="1142.5" x2="428" y2="1142.5"/>
  <line x1="421" y1="1158.5" x2="496" y2="1158.5"/>
  <line x1="393" y1="1265.5" x2="436" y2="1265.5"/>
  <line x1="398.5" y1="1097" x2="398.5" y2="1259"/>
  <line x1="412.5" y1="1150" x2="412.5" y2="1259"/>
  <line x1="426.5" y1="1166" x2="426.5" y2="1259"/>
  <line x1="594" y1="1155.5" x2="640" y2="1155.5"/>
  <line x1="630" y1="1162" x2="630" y2="1265"/>
  <line x1="508" y1="1271.5" x2="640" y2="1271.5"/>
  <line x1="434.5" y1="1269" x2="434.5" y2="1292"/>
  <line x1="495" y1="1269" x2="495" y2="1307"/>
  <line x1="518.5" y1="1270" x2="518.5" y2="1293"/>
  <line x1="595.5" y1="1272" x2="595.5" y2="1292"/>
  <line x1="622.4" y1="1258" x2="622.4" y2="1307"/>
  <line x1="440" y1="1287" x2="489" y2="1287"/>
  <line x1="489" y1="1287" x2="512" y2="1287"/>
  <line x1="524" y1="1287" x2="590" y2="1287"/>
  <line x1="501" y1="1302.7" x2="616" y2="1302.7"/>
</g>
<g fill="#b0b0b0" stroke="none">
  <polygon points="398.5,1091 394.5,1099 402.5,1099"/>
  <polygon points="412.5,1143 408.5,1151 416.5,1151"/>
  <polygon points="426.5,1159 422.5,1167 430.5,1167"/>
  <polygon points="398.5,1265 394.5,1257 402.5,1257"/>
  <polygon points="412.5,1265 408.5,1257 416.5,1257"/>
  <polygon points="426.5,1265 422.5,1257 430.5,1257"/>
  <polygon points="630,1156 626,1163 634,1163"/>
  <polygon points="630,1271 626,1264 634,1264"/>
  <polygon points="434.5,1287 442.5,1283 442.5,1291"/>
  <polygon points="494.5,1287 486.5,1283 486.5,1291"/>
  <polygon points="495.5,1287 503.5,1283 503.5,1291"/>
  <polygon points="518,1287 510,1283 510,1291"/>
  <polygon points="519,1287 527,1283 527,1291"/>
  <polygon points="595,1287 587,1283 587,1291"/>
  <polygon points="495.5,1302.7 503.5,1298.7 503.5,1306.7"/>
  <polygon points="622,1302.7 614,1298.7 614,1306.7"/>
</g>
<g font-family="Liberation Sans" font-size="9" fill="#a8a8a8" text-anchor="middle">
  <text x="403.5" y="1186.5">13</text>
  <text x="416.5" y="1212">5</text>
  <text x="433" y="1219">12</text>
  <text x="640.5" y="1226">14</text>
  <text x="463.5" y="1295">6</text>
  <text x="506.5" y="1295">8</text>
  <text x="551.5" y="1295">22</text>
  <text x="556.5" y="1311">10</text>
</g>
<g fill="none" stroke="#111" stroke-linecap="round" stroke-linejoin="round">
  <!-- raised fork -->
  <path d="M494.5,1091 L498.3,1091 L498.3,1143 Q498,1145.5 495.5,1145.5 L446,1144.8 L434.3,1143.6 L494.5,1142.4 Z" stroke-width="1"/>
  <line x1="496.4" y1="1102" x2="496.4" y2="1140" stroke-width="0.8"/>
  <!-- lower fork -->
  <path d="M494,1208 L498.6,1208 L498.6,1268.2 L437,1268.2 L434.4,1266.5 L494,1266 Z" stroke-width="1"/>
  <path d="M434.4,1257.2 L494,1258.5" stroke-width="1.2"/>
  <!-- mast -->
  <path d="M499.5,1155 L499.5,1265" stroke-width="2"/>
  <path d="M499.5,1155.8 L518.8,1155.8 L518.8,1158 L499.5,1158" stroke-width="1.3"/>
  <path d="M507.5,1158 L507.5,1240 M511.8,1158 L511.8,1240" stroke-width="1.1"/>
  <path d="M516.4,1158 L516.4,1172" stroke-width="1"/>
  <rect x="507" y="1160" width="5" height="8" stroke-width="1"/>
  <rect x="505" y="1172" width="9" height="3.5" stroke-width="1" fill="#333"/>
  <rect x="506" y="1178" width="7" height="3" stroke-width="0.9"/>
  <circle cx="502" cy="1162.5" r="1.3" fill="#111" stroke-width="0.6"/>
  <rect x="503.5" y="1219" width="9.5" height="13" rx="2.5" stroke-width="1"/>
  <!-- overhead guard -->
  <path d="M519,1233 C528,1210 536,1185 541,1167 Q541,1155 552,1154.8 L594.4,1154.8 L594.4,1158.6 L556,1158.6 Q548,1158.6 545.5,1168 C540,1187 532,1211 523,1234" stroke-width="1.6"/>
  <path d="M543,1160 Q546,1157 552,1156.5" stroke-width="0.8"/>
  
  <path d="M588.5,1159 L590.5,1216 M593.8,1159 L595.8,1216" stroke-width="1.4"/>
  <rect x="529" y="1168.5" width="8.5" height="10.5" stroke-width="1.1"/>
  <path d="M540.5,1184 L544.5,1173 M539,1176 L545.5,1178.5" stroke-width="1.5"/>
  <path d="M535,1189 L549.5,1191.5 M545.5,1187 L548.5,1196" stroke-width="2.2"/>
  <path d="M535,1192 L530,1212 L533,1218 L538,1197 Z" stroke-width="1.2" fill="#444"/>
  <path d="M530,1214 L541,1222 L536,1225" stroke-width="1.6"/>
  <!-- seat -->
  <path d="M548.5,1233 Q547.5,1222 555,1219.5 L588.5,1215.5 L572,1232.5 L560,1234.5 Z" stroke-width="1.3"/>
  <path d="M549,1224 L585,1219.5 M550,1228 L578,1225" stroke-width="0.8"/>
  <!-- body -->
  <path d="M521,1229 L534,1235.5 L548,1236.8 L596,1232.5 L622,1229.5" stroke-width="1.6"/>
  <path d="M534,1236 L541,1238.5 L540,1252 L538.5,1255" stroke-width="1"/>
  <path d="M563,1235 L561,1248.5 L541,1248.5" stroke-width="1"/>
  <circle cx="542.5" cy="1242" r="1.1" stroke-width="0.8"/>
  <path d="M538,1255.2 L583,1255.2" stroke-width="1.1"/>
  <path d="M538,1261.6 L583,1261.6" stroke-width="1.7"/>
  <!-- counterweight -->
  <path d="M596,1200 Q612,1198 619,1202 Q622,1208 622,1214 L621,1228 L622,1232 L622,1245 L620,1254 L618,1262 L610,1264" stroke-width="1.3"/>
  <path d="M596,1204 L621,1202 M596,1226 L622,1224 M606,1201 L607,1262 M614,1201 L614,1262" stroke-width="0.9"/>
  <path d="M596,1214 L622,1212 M596,1246 L614,1245" stroke-width="1.7"/>
  <path d="M596,1200 L597,1246" stroke-width="1.8"/>
  <rect x="617" y="1205" width="4" height="3" fill="#111" stroke-width="0.6"/>
  <!-- LPG tank -->
  <circle cx="607.6" cy="1186" r="8.6" stroke-width="1.6"/>
  <circle cx="607.6" cy="1186" r="6.4" stroke-width="0.8"/>
  <path d="M598,1186 L617,1186 M607.6,1176.5 L607.6,1195" stroke-width="0.9"/>
  <path d="M603,1195 L605,1198 L611,1198 L613,1195" stroke-width="0.9"/>
  <!-- front wheel -->
  <path d="M508,1240 Q518,1233 530,1239 Q539,1246 540,1262" stroke-width="1.2"/>
  <path d="M511,1243 Q520,1238 528,1243 Q536,1250 537,1262" stroke-width="0.8"/>
  <circle cx="518.4" cy="1254.8" r="13.3" stroke-width="2.6" fill="#fff"/>
  <circle cx="518.4" cy="1254.8" r="11.2" stroke-width="0.9"/>
  <circle cx="518.4" cy="1254.8" r="9.2" stroke-width="1.1"/>
  <path d="M504.6,1254.8 L532.2,1254.8 M518.4,1241 L518.4,1268.6" stroke-width="0.6"/>
  <circle cx="518.4" cy="1254.8" r="3.8" fill="#111" stroke-width="1"/>
  <path d="M513.5,1254.8 L523.3,1254.8 M518.4,1250 L518.4,1259.7 M515,1251.4 L521.8,1258.2 M521.8,1251.4 L515,1258.2" stroke-width="1.3"/>
  <!-- rear wheel -->
  <path d="M583,1253 Q590,1244 602,1245 Q612,1247 614,1258 L612,1265" stroke-width="1.1"/>
  <circle cx="595.6" cy="1259.2" r="11.8" stroke-width="2.5" fill="#fff"/>
  <circle cx="595.6" cy="1259.2" r="9.8" stroke-width="0.9"/>
  <circle cx="595.6" cy="1259.2" r="7" stroke-width="0.8"/>
  <circle cx="595.6" cy="1259.2" r="2" stroke-width="0.9"/>
  <path d="M583.4,1259.2 L607.8,1259.2 M595.6,1247 L595.6,1271.4" stroke-width="0.6"/>
  <path d="M608,1256 Q616,1257 617,1262 L620,1262" stroke-width="1"/>
</g>
<defs>
  <pattern id="hatch" patternUnits="userSpaceOnUse" width="3" height="3" patternTransform="rotate(-45)">
    <rect width="3" height="3" fill="#e4e4e4"/>
    <line x1="0" y1="0" x2="0" y2="3" stroke="#bdbdbd" stroke-width="1.2"/>
  </pattern>
</defs>
<rect x="659" y="1127.3" width="19.8" height="32" fill="url(#hatch)"/>
<rect x="659" y="1254.7" width="19.8" height="32.3" fill="url(#hatch)"/>
<g font-family="Liberation Sans" font-size="8.6" fill="#a6a6a6" letter-spacing="0.33">
  <text x="693.5" y="1134">RASA:Right-Angle Stack Aisle</text>
  <text x="693.5" y="1143.3">a:Safety Clearance</text>
  <text x="693.5" y="1152.6">b:Length of Loading</text>
  <text x="693.5" y="1161.9">v:Turning radius(inside)</text>
</g>
<rect x="689.3" y="1177.3" width="82" height="73" fill="#dcdcdc"/>
<g fill="none" stroke="#b2b2b2" stroke-width="1">
  <line x1="679" y1="1177.3" x2="772" y2="1177.3"/>
  <line x1="679" y1="1250.3" x2="772" y2="1250.3"/>
  <line x1="683.7" y1="1184" x2="683.7" y2="1244"/>
  <line x1="689.3" y1="1257" x2="689.3" y2="1279"/>
  <line x1="762" y1="1250" x2="762" y2="1278"/>
  <line x1="788.3" y1="1163" x2="788.3" y2="1277"/>
  
  <line x1="696" y1="1270.2" x2="756" y2="1270.2"/>
  <line x1="795" y1="1270.2" x2="910" y2="1270.2"/>
  <line x1="686" y1="1285.3" x2="921" y2="1285.3"/>
  <line x1="928.3" y1="1125" x2="928.3" y2="1290" stroke="#e4e4e4"/>
  <path d="M906,1198 Q917,1215 917,1270"/>
  <line x1="760" y1="1213.5" x2="905" y2="1213.5" stroke="#cfcfcf" stroke-width="0.7"/>
  <path d="M793,1262 Q797,1254 806,1257" stroke-width="0.8"/>
</g>
<g fill="#a8a8a8">
  <polygon points="683.7,1177.5 679.7,1185 687.7,1185"/>
  <polygon points="683.7,1250 679.7,1242.5 687.7,1242.5"/>
  <polygon points="689.8,1270.2 697.5,1266.2 697.5,1274.2"/>
  <polygon points="761.5,1270.2 753.8,1266.2 753.8,1274.2"/>
  <polygon points="788.8,1270.2 796.5,1266.2 796.5,1274.2"/>
  <polygon points="917,1270.2 909.3,1266.2 909.3,1274.2"/>
  <polygon points="679.5,1285.3 687.5,1281.3 687.5,1289.3"/>
  <polygon points="927.5,1285.3 919.5,1281.3 919.5,1289.3"/>
  <polygon points="795,1262 801,1255 803,1260"/>
</g>
<g font-family="Liberation Sans" fill="#a0a0a0" text-anchor="middle">
  <text x="676.5" y="1218" font-size="9">11</text>
  <text x="726" y="1268.5" font-size="9">b</text>
  <text x="684" y="1272.5" font-size="5">a/2</text>
  <text x="781" y="1264" font-size="8">v</text>
  <text x="840.5" y="1268.5" font-size="9.5">15</text>
  <text x="798" y="1284" font-size="8.4" letter-spacing="0.2">RASA=15+8+b+a</text>
</g>
<g fill="none" stroke="#1a1a1a" stroke-linejoin="round">
  <!-- forks -->
  <path d="M761.7,1192.8 L698.2,1192.8 Q694.2,1192.8 694.2,1196.75 Q694.2,1200.7 698.2,1200.7 L761.7,1200.7" stroke-width="1.1" fill="#e2e2e2"/>
  <path d="M761.7,1226.2 L698.2,1226.2 Q694.2,1226.2 694.2,1230.2 Q694.2,1234.2 698.2,1234.2 L761.7,1234.2" stroke-width="1.1" fill="#e2e2e2"/>
  <!-- carriage -->
  <rect x="761.8" y="1181" width="4.2" height="65" stroke-width="1.1" fill="#c8c8c8"/>
  <line x1="763.9" y1="1183" x2="763.9" y2="1244" stroke-width="0.7"/>
  <!-- body outline -->
  <path d="M771,1177.6 L805,1177.6 L807,1180.5 L889,1180.5 Q893,1180.5 896,1185 L903,1199.2 Q906.6,1206 906.6,1213.6 Q906.6,1221 903,1228 L896,1242.5 Q893,1247.4 889,1247.4 L807,1247.4 L805,1249.8 L771,1249.8 Z" stroke-width="1.5" fill="#fff"/>
  <!-- front tires -->
  <rect x="771" y="1178" width="20" height="11" fill="#8a8a8a" stroke-width="1.1"/>
  <rect x="771" y="1238.5" width="20" height="11" fill="#8a8a8a" stroke-width="1.1"/>
  <rect x="778" y="1180" width="8" height="6" fill="#fff" stroke-width="0.6"/>
  <rect x="778" y="1241.5" width="8" height="6" fill="#fff" stroke-width="0.6"/>
  <!-- mast -->
  <path d="M775,1195 Q768,1213.5 775,1232 L786,1232 L786,1195 Z" stroke-width="2.2" fill="#fff"/>
  <path d="M778,1199 Q773,1213.5 778,1228" stroke-width="1"/>
  <rect x="777" y="1198" width="6" height="31" stroke-width="1.3" fill="#fff"/>
  <path d="M772,1190 L790,1190 M772,1237 L790,1237" stroke-width="1.6"/>
  <path d="M786,1192 L790,1192 L790,1235 L786,1235" stroke-width="1.2"/>
  <path d="M788.3,1186 L788.3,1241" stroke-width="1"/>
  <path d="M793,1183 L793,1244" stroke-width="1.3" stroke-dasharray="2,1.2"/>
  <path d="M797,1183 L797,1244" stroke-width="1.2"/>
  <path d="M790,1181 L806,1181 M790,1246.5 L806,1246.5" stroke-width="1.4"/>
  <circle cx="790" cy="1188" r="1.6" stroke-width="0.9"/>
  <circle cx="790" cy="1239" r="1.6" stroke-width="0.9"/>
  <!-- steering -->
  <path d="M800,1186 L806,1186 L806,1241 L800,1241" stroke-width="1.1"/>
  <ellipse cx="803" cy="1215.5" rx="4.5" ry="7" stroke-width="1.5"/>
  <path d="M801,1193 L806,1198 M801,1232 L806,1237" stroke-width="2"/>
  <!-- body frame -->
  <path d="M807,1185.5 L874,1185.5 M807,1242.5 L874,1242.5" stroke-width="1.2"/>
  <path d="M807,1183 L874,1183 M807,1244.8 L874,1244.8" stroke-width="0.8"/>
  <rect x="810.5" y="1187" width="2.8" height="54" stroke-width="0.9"/>
  <rect x="842" y="1187" width="2.8" height="54" stroke-width="0.9"/>
  <path d="M866.5,1187 L866.5,1241 M869,1187 L869,1241" stroke-width="1"/>
  <path d="M871,1189 L873,1189 L873,1238 L871,1238" stroke-width="0.8"/>
  <!-- ovals -->
  <g stroke-width="1.3" fill="#fff">
    <rect x="815.5" y="1188.3" width="22.5" height="8" rx="4"/>
    <rect x="815.5" y="1198.8" width="22.5" height="8" rx="4"/>
    <rect x="815.5" y="1209.4" width="22.5" height="8" rx="4"/>
    <rect x="815.5" y="1220" width="22.5" height="8" rx="4"/>
    <rect x="815.5" y="1230.6" width="22.5" height="8" rx="4"/>
  </g>
  <path d="M817,1190 L823,1195 M817,1241 M816.5,1236 L822,1232 M817,1219 L820,1212" stroke-width="2.6"/>
  <path d="M827,1188 L827,1239" stroke-width="0.8"/>
  <path d="M830,1210 L830,1217 M833,1210 L833,1217 M830,1221 L830,1228 M833,1221 L833,1228" stroke-width="0.9"/>
  <!-- circles & hexagon -->
  <circle cx="854.4" cy="1193.4" r="6" stroke-width="1.2"/>
  <circle cx="854.4" cy="1233.9" r="6" stroke-width="1.2"/>
  <path d="M854.4,1205 L861.2,1209.3 L861.2,1217.9 L854.4,1222.2 L847.6,1217.9 L847.6,1209.3 Z" stroke-width="1.3"/>
  <path d="M854.4,1214 L854.4,1220 M852.2,1214.3 L854.4,1212.3 L856.6,1214.3 Z" stroke-width="1.8"/>
  <!-- counterweight details -->
  <path d="M876,1182 L889.5,1182 L897,1194 L880,1190.5 Q884,1197 884,1199 L895,1199 L895,1228 L884,1228 Q884,1231 880,1236.5 L897,1233 L889.5,1245.8 L876,1245.8" stroke-width="1.1"/>
  <path d="M880,1201.5 L902,1201.5 M880,1207 L903,1207 M880,1213 L903,1213 M880,1220 L903,1220 M880,1226 L902,1226" stroke-width="0.9"/>
  <path d="M881,1201.5 L881,1226" stroke-width="0.9"/>
  <circle cx="875.5" cy="1197.5" r="1.5" stroke-width="0.8"/>
  <circle cx="875.5" cy="1229.5" r="1.5" stroke-width="0.8"/>
</g>
<line x1="874.3" y1="1165" x2="874.3" y2="1258" stroke="#8a8a8a" stroke-width="0.8"/>
<line x1="788.3" y1="1165" x2="788.3" y2="1260" stroke="#9a9a9a" stroke-width="0.8"/>
<line x1="760" y1="1213.6" x2="915" y2="1213.6" stroke="#c4c4c4" stroke-width="0.6"/>

</svg>
<!-- page -->
<div style="position:absolute;left:72.3px;top:1302.2px;height:16px;line-height:16px;font-size:11.5px;font-weight:bold;white-space:nowrap;transform-origin:0 50%;transform:scaleX(1.3);"><span style="color:#e98a22;-webkit-text-stroke:0.35px #e98a22">page</span> <span style="color:#2a2a2a;-webkit-text-stroke:0.35px #2a2a2a;letter-spacing:1px">37</span></div>
</body></html>
